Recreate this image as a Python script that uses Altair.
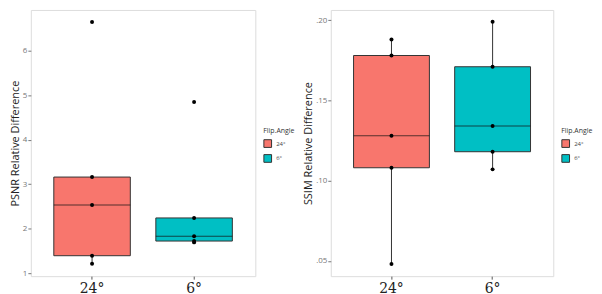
import altair as alt
import pandas as pd

angles = ["24°", "24°", "24°", "24°", "24°", "6°", "6°", "6°", "6°", "6°"]
psnr_values = [6.65, 3.16, 2.53, 1.39, 1.21, 4.85, 2.24, 1.83, 1.72, 1.69]
ssim_values = [0.188, 0.178, 0.128, 0.108, 0.048, 0.199, 0.171, 0.134, 0.118, 0.107]
angle_order = ["24°", "6°"]
colors = ["#F8766D", "#00BFC4"]

df = pd.DataFrame({"angle": angles, "psnr": psnr_values, "ssim": ssim_values})

PW_L, PW_R, PH = 226, 224, 268


def panel(field, title, domain, ticks, label_expr, width):
    x = alt.X(
        "angle:N",
        sort=angle_order,
        scale=alt.Scale(paddingInner=0.25, paddingOuter=0.225),
        axis=alt.Axis(
            title=None,
            labelFont="DejaVu Serif",
            labelFontSize=14,
            labelColor="#222222",
            labelAngle=0,
            labelPadding=2,
            tickSize=3,
            tickColor="#555555",
            domain=False,
        ),
    )
    y = alt.Y(
        f"{field}:Q",
        scale=alt.Scale(domain=domain, nice=False, zero=False),
        axis=alt.Axis(
            title=title,
            titleFont="Open Sans",
            titleFontSize=11,
            titleFontWeight="normal",
            titleColor="#222222",
            titlePadding=2,
            values=ticks,
            labelExpr=label_expr,
            labelFont="Open Sans",
            labelFontSize=8,
            labelColor="#777777",
            labelPadding=1,
            tickSize=3,
            tickColor="#777777",
            grid=False,
            domain=False,
        ),
    )
    box = alt.Chart(df).mark_boxplot(
        extent=1.5,
        size=0.75 * width / 2.2,
        outliers=False,
        ticks=False,
        box={"stroke": "#333333", "strokeWidth": 1},
        median={"color": "#111111", "strokeWidth": 2},
        rule={"color": "#333333", "strokeWidth": 1},
    ).encode(
        x=x,
        y=y,
        color=alt.Color(
            "angle:N",
            sort=angle_order,
            scale=alt.Scale(domain=angle_order, range=colors),
            legend=alt.Legend(
                title="Flip.Angle",
                titleFont="Open Sans",
                titleFontSize=7,
                titleFontWeight="normal",
                titleColor="#333333",
                labelFont="Open Sans",
                labelFontSize=6,
                labelColor="#444444",
                symbolType="square",
                symbolSize=60,
                symbolStrokeColor="#333333",
                symbolStrokeWidth=1,
                symbolOpacity=1,
                rowPadding=2,
                orient="none",
                legendX=width + 8,
                legendY=118,
            ),
        ),
    )
    pts = alt.Chart(df).mark_circle(size=16, color="black", opacity=1).encode(x=x, y=y)
    return alt.layer(box, pts).properties(width=width, height=PH)


left = panel("psnr", "PSNR Relative Difference", [0.93, 6.92], [1, 2, 3, 4, 5, 6],
             "format(datum.value, 'd')", PW_L)
right = panel("ssim", "SSIM Relative Difference", [0.0404, 0.2064], [0.05, 0.10, 0.15, 0.20],
              "replace(format(datum.value, '.2f'), '0.', '.')", PW_R)

chart = alt.hconcat(left, right, spacing=6).resolve_scale(color="independent").resolve_legend(
    color="independent"
).properties(padding=0).configure_view(stroke="#9A9A9A", strokeWidth=1.2).configure(background="white")

chart.save("out.html", embed_options={"renderer": "svg", "actions": False})
